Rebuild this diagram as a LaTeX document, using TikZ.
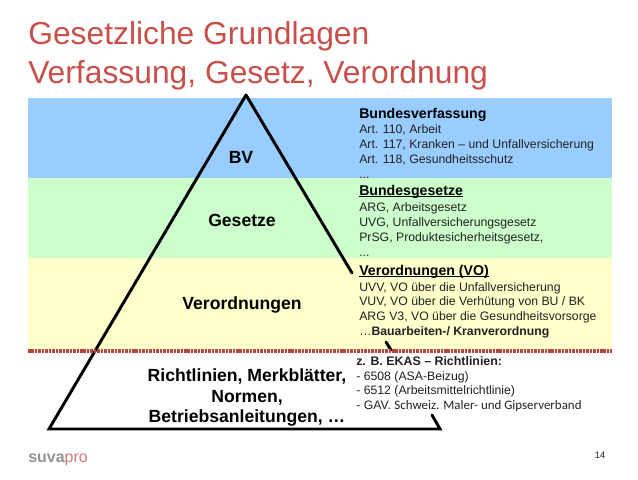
\documentclass[tikz,border=0pt]{standalone}
\usepackage{fontspec}
\setmainfont{Liberation Sans}
\newfontfamily\carlito{Carlito}
\usetikzlibrary{calc}
\definecolor{titlered}{HTML}{C8504B}
\definecolor{bandblue}{HTML}{99CCFF}
\definecolor{bandgreen}{HTML}{CCFFCC}
\definecolor{bandyellow}{HTML}{FFFFCC}
\definecolor{dotred}{HTML}{B5453F}
\definecolor{txt}{HTML}{222222}
\newcommand{\headline}[1]{\setbox0=\hbox{#1}\rlap{\rule[-1.4pt]{\wd0}{0.8pt}}\box0}
\tikzset{
  x=0.75pt,y=-0.75pt,
  titletext/.style={anchor=base west,inner sep=0,text=titlered,font=\fontsize{23.85pt}{28pt}\selectfont},
  headtext/.style={anchor=base west,inner sep=0,text=black,font=\fontsize{10.6pt}{12pt}\selectfont\bfseries},
  bodytext/.style={anchor=base west,inner sep=0,text=txt,font=\fontsize{9.2pt}{11pt}\selectfont},
  tierlabel/.style={anchor=base,inner sep=0,text=black,font=\fontsize{13.2pt}{15pt}\selectfont\bfseries},
  pyramid/.style={draw=black,line width=2.2pt,line cap=round,line join=miter},
}
\begin{document}
\begin{tikzpicture}
\useasboundingbox (0,0) rectangle (638,479);
\fill[white] (0,0) rectangle (638,479);
\node[titletext] (t1) at (28,44) {Gesetzliche Grundlagen};
\node[titletext] (t2) at (28,83) {Verfassung, Gesetz, Verordnung};
\fill[bandblue] (28,98) rectangle (612,178);
\fill[bandgreen] (28,178) rectangle (612,258);
\fill[bandyellow] (28,258) rectangle (612,350);
\coordinate (apex) at (246,95);
\coordinate (bl) at (49,429);
\coordinate (br) at (440,429);
\draw[pyramid] (apex) -- (bl) -- (br) -- (432,415);
\draw[pyramid] (apex) -- (352,273);
\draw[pyramid] (386,342) -- (391,350);
\draw[dotred,line width=2.3pt,dash pattern=on 1.9pt off 0.7pt] (28,351) -- (612,351);
\node[tierlabel] (bv) at (241,163) {BV};
\node[tierlabel] (ges) at (242,226) {Gesetze};
\node[tierlabel] (vo) at (242,309) {Verordnungen};
\node[tierlabel] (r1) at (247,381) {Richtlinien, Merkblätter,};
\node[tierlabel] (r2) at (247,402) {Normen,};
\node[tierlabel] (r3) at (247,422) {Betriebsanleitungen, …};
\node[headtext] (a0) at (359,118.5) {Bundesverfassung};
\node[bodytext] (a1) at (359,133) {Art. 110, Arbeit};
\node[bodytext] (a2) at (359,148) {Art. 117, Kranken – und Unfallversicherung};
\node[bodytext] (a3) at (359,163) {Art. 118, Gesundheitsschutz};
\node[bodytext] (a4) at (359,178) {...};
\node[headtext] (b0) at (359,195.5) {\headline{Bundesgesetze}};
\node[bodytext] (b1) at (359,211) {ARG, Arbeitsgesetz};
\node[bodytext] (b2) at (359,226) {UVG, Unfallversicherungsgesetz};
\node[bodytext] (b3) at (359,241) {PrSG, Produktesicherheitsgesetz,};
\node[bodytext] (b4) at (359,256) {...};
\node[headtext] (c0) at (359,275) {\headline{Verordnungen (VO)}};
\node[bodytext] (c1) at (359,291) {UVV, VO über die Unfallversicherung};
\node[bodytext] (c2) at (359,305) {VUV, VO über die Verhütung von BU / BK};
\node[bodytext] (c3) at (359,320) {ARG V3, VO über die Gesundheitsvorsorge};
\node[bodytext] (c4) at (359,335) {…\textbf{Bauarbeiten-/ Kranverordnung}};
\node[bodytext,font=\fontsize{9.3pt}{11pt}\selectfont\bfseries] (d0) at (356,365) {z. B. EKAS – Richtlinien:};
\node[bodytext] (d1) at (356,380) {- 6508 (ASA-Beizug)};
\node[bodytext] (d2) at (356,394) {- 6512 (Arbeitsmittelrichtlinie)};
\node[bodytext] (d3) at (356,409) {- GAV. {\carlito\fontsize{9.7pt}{11pt}\selectfont Schweiz. Maler- und Gipserverband}};
\node[anchor=base west,inner sep=0,font=\fontsize{12pt}{14pt}\selectfont\bfseries,text=gray!85] (logo) at (28,462) {suva{\mdseries\color{titlered!75}pro}};
\node[anchor=base,inner sep=0,text=txt,font=\fontsize{7pt}{8pt}\selectfont] (pg) at (600,458) {14};
\end{tikzpicture}
\end{document}
